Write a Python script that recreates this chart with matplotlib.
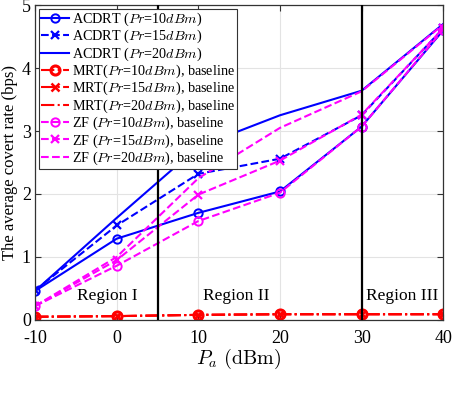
import matplotlib
matplotlib.use("Agg")
import matplotlib.pyplot as plt

plt.rcParams['font.family'] = ['Liberation Serif', 'DejaVu Serif']
plt.rcParams['mathtext.fontset'] = 'stix'
plt.rcParams['axes.unicode_minus'] = False

pa = [-10, 0, 10, 20, 30, 40]

acdrt_10 = [0.46, 1.29, 1.70, 2.04, 3.07, 4.60]
acdrt_15 = [0.47, 1.50, 2.32, 2.56, 3.25, 4.63]
acdrt_20 = [0.46, 1.62, 2.75, 3.25, 3.64, 4.70]
mrt_10 = [0.05, 0.06, 0.08, 0.09, 0.09, 0.09]
mrt_15 = [0.05, 0.06, 0.08, 0.09, 0.09, 0.09]
mrt_20 = [0.05, 0.06, 0.08, 0.09, 0.09, 0.09]
zf_10 = [0.22, 0.86, 1.57, 2.02, 3.07, 4.61]
zf_15 = [0.22, 0.95, 1.99, 2.53, 3.26, 4.63]
zf_20 = [0.22, 1.00, 2.25, 3.05, 3.63, 4.69]

region_lines = [5, 30]
region_labels = ["Region I", "Region II", "Region III"]
region_x = [-1.2, 14.7, 35.0]
region_y = 0.38

blue = '#0000ff'
red = '#ff0000'
mag = '#ff00ff'

fig = plt.figure(figsize=(4.74, 3.93), dpi=100)
ax = fig.add_axes([0.074, 0.186, 0.861, 0.801])

lw = 1.5
ax.plot(pa, acdrt_10, '-', color=blue, lw=lw, marker='o', ms=6, mfc='none', mew=1.4,
        label=r'ACDRT ($Pr$=10$dBm$)')
ax.plot(pa, acdrt_15, '--', color=blue, lw=lw, marker='x', ms=6, mew=1.6,
        label=r'ACDRT ($Pr$=15$dBm$)')
ax.plot(pa, acdrt_20, '-', color=blue, lw=lw,
        label=r'ACDRT ($Pr$=20$dBm$)')
ax.plot(pa, mrt_10, '-.', color=red, lw=lw, marker='o', ms=6.5, mfc='none', mew=2.2,
        label=r'MRT($Pr$=10$dBm$), baseline')
ax.plot(pa, mrt_15, '-.', color=red, lw=lw, marker='x', ms=6, mew=1.8,
        label=r'MRT($Pr$=15$dBm$), baseline')
ax.plot(pa, mrt_20, '-.', color=red, lw=lw,
        label=r'MRT($Pr$=20$dBm$), baseline')
ax.plot(pa, zf_10, '--', color=mag, lw=lw, marker='o', ms=6, mfc='none', mew=1.4,
        label=r'ZF ($Pr$=10$dBm$), baseline')
ax.plot(pa, zf_15, '--', color=mag, lw=lw, marker='x', ms=6, mew=1.6,
        label=r'ZF ($Pr$=15$dBm$), baseline')
ax.plot(pa, zf_20, '--', color=mag, lw=lw,
        label=r'ZF ($Pr$=20$dBm$), baseline')

for xv in region_lines:
    ax.axvline(xv, color='black', lw=1.6, zorder=5)
for lab, xv in zip(region_labels, region_x):
    ax.text(xv, region_y, lab, ha='center', va='center', fontsize=12.5)

ax.set_xlim(-10, 40)
ax.set_ylim(0, 5)
ax.set_xticks([-10, 0, 10, 20, 30, 40])
ax.set_yticks([0, 1, 2, 3, 4, 5])
ax.grid(True, color='#e3e3e3', lw=0.8)
ax.set_axisbelow(True)
ax.tick_params(direction='in', top=True, right=True, labelsize=13, length=4,
               color='#333333')
ax.tick_params(axis='x', pad=7)
ax.tick_params(axis='y', pad=3)
for s in ax.spines.values():
    s.set_color('#333333')
    s.set_linewidth(0.9)

ax.set_xlabel(r'$P_a\ (\mathrm{dBm})$', fontsize=14.5, labelpad=0, math_fontfamily='cm')
ax.set_ylabel('The average covert rate (bps)', fontsize=12, labelpad=3)

leg = ax.legend(loc='upper left', fontsize=10.2, labelspacing=0.0, handlelength=2.0,
                handletextpad=0.2, borderpad=0.15, borderaxespad=0.25,
                fancybox=False, framealpha=1, edgecolor='#333333')
leg.get_frame().set_linewidth(0.8)
leg.set_zorder(10)
for t in leg.get_texts():
    t.set_math_fontfamily('cm')

fig.savefig('out.png', dpi=100)
